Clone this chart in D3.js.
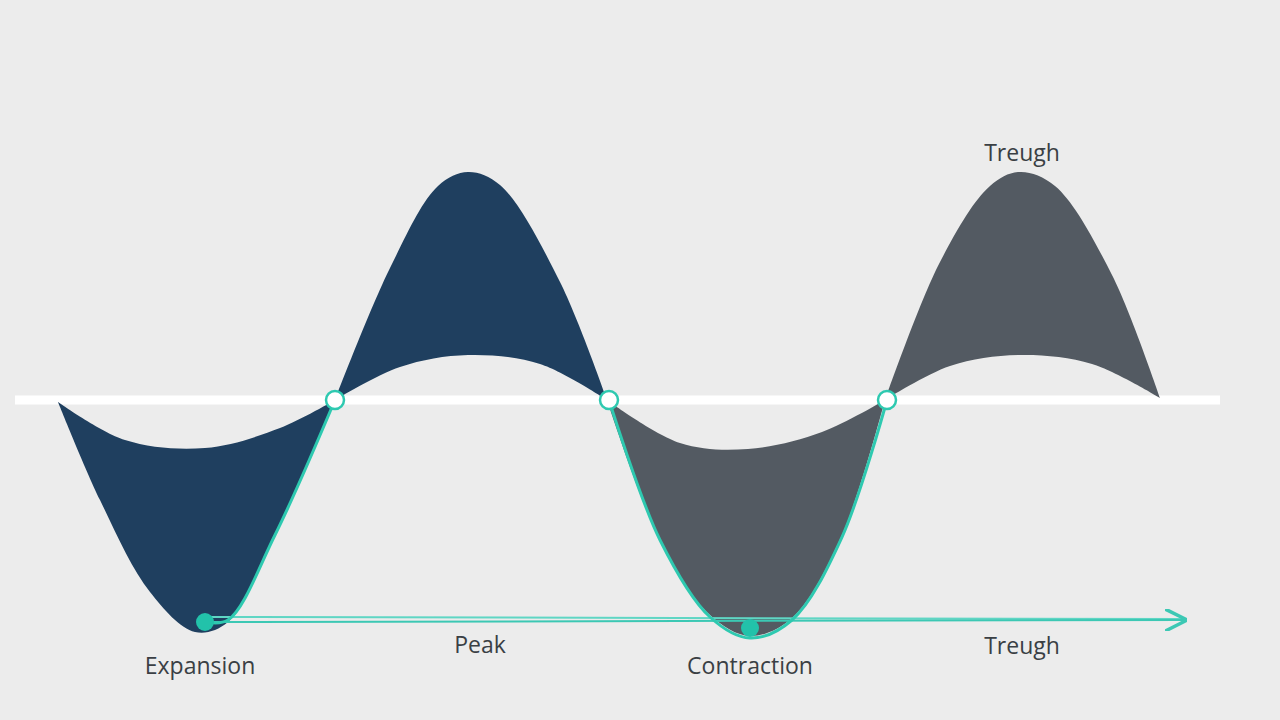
<!DOCTYPE html>
<html>
<head>
<meta charset="utf-8">
<script src="https://cdn.jsdelivr.net/npm/d3@7"></script>
<style>
  body { margin: 0; background: #ececec; }
  text { font-family: "Open Sans", "Noto Sans", sans-serif; }
</style>
</head>
<body>
<div id="chart"></div>
<script>
// lobes of the cycle: outer edge and inner edge, [x, y]
const lobeOuter = [
  [[58,402],[100,500],[150,592],[195,632],[228,622],[275,535],[335,400]],
  [[335,400],[390,268],[438,186],[468,172],[500,185],[560,282],[607,400]],
  [[607,400],[660,540],[710,615],[750,636],[792,618],[842,535],[885,400]],
  [[885,400],[940,262],[990,186],[1020,172],[1055,186],[1112,275],[1160,398]]
];
const lobeInner = [
  [[58,402],[125,440],[205,448],[280,428],[335,400]],
  [[335,400],[400,367],[468,355],[540,364],[607,400]],
  [[607,400],[680,443],[748,449],[822,432],[885,400]],
  [[885,400],[950,366],[1020,355],[1092,364],[1160,398]]
];
const lobeColors = ['#1f3f5f', '#1f3f5f', '#535a62', '#535a62'];

// teal outline along the outer edge
const tealPath = [
  [[205,622],[228,620],[275,535],[335,400]],
  [[609,400],[660,540],[710,617],[750,638],[792,620],[842,537],[887,400]]
];
const crossings = [[335,400],[609,400],[887,400]];
const lows = [[205,622],[750,628]];

const labels = [
  { text: 'Expansion', x: 200, y: 674 },
  { text: 'Peak', x: 480, y: 653 },
  { text: 'Contraction', x: 750, y: 674 },
  { text: 'Treugh', x: 1022, y: 654 },
  { text: 'Treugh', x: 1022, y: 161 }
];

const width = 1280, height = 720;
const svg = d3.select('#chart').append('svg')
  .attr('width', width).attr('height', height);

svg.append('rect').attr('width', width).attr('height', height).attr('fill', '#ececec');

const x = d3.scaleLinear().domain([0, 1280]).range([0, width]);
const y = d3.scaleLinear().domain([0, 720]).range([0, height]);

const line = d3.line().x(d => x(d[0])).y(d => y(d[1])).curve(d3.curveCatmullRom);

// baseline
svg.append('line')
  .attr('x1', x(15)).attr('x2', x(1220)).attr('y1', y(400)).attr('y2', y(400))
  .attr('stroke', '#ffffff').attr('stroke-width', 9);

// lobes
lobeOuter.forEach((outer, i) => {
  const inner = lobeInner[i].slice().reverse();
  const d = line(outer) + line(inner).replace(/^M/, 'L') + 'Z';
  svg.append('path').attr('d', d).attr('fill', lobeColors[i]);
});

// arrow along the bottom
svg.append('defs').append('marker')
  .attr('id', 'arrow').attr('viewBox', '0 0 10 10')
  .attr('refX', 9).attr('refY', 5)
  .attr('markerWidth', 8).attr('markerHeight', 8)
  .attr('markerUnits', 'userSpaceOnUse')
  .attr('orient', 'auto')
  .append('path').attr('d', 'M0,0 L10,5 L0,10')
  .attr('fill', 'none').attr('stroke', '#3cc8b4').attr('stroke-width', 1.6);

svg.select('#arrow').attr('markerWidth', 22).attr('markerHeight', 22);

svg.append('line')
  .attr('x1', x(205)).attr('x2', x(1185)).attr('y1', y(617)).attr('y2', y(619))
  .attr('stroke', '#5fd6c4').attr('stroke-width', 2);
svg.append('line')
  .attr('x1', x(205)).attr('x2', x(1185)).attr('y1', y(622)).attr('y2', y(620))
  .attr('stroke', '#3cc8b4').attr('stroke-width', 2)
  .attr('marker-end', 'url(#arrow)');

// teal outlines
tealPath.forEach(p => {
  svg.append('path').attr('d', line(p))
    .attr('fill', 'none').attr('stroke', '#2ec9b0').attr('stroke-width', 3);
});

svg.selectAll('.low').data(lows).join('circle')
  .attr('cx', d => x(d[0])).attr('cy', d => y(d[1])).attr('r', 9)
  .attr('fill', '#22c2aa');

svg.selectAll('.cross').data(crossings).join('circle')
  .attr('cx', d => x(d[0])).attr('cy', d => y(d[1])).attr('r', 9)
  .attr('fill', '#ffffff').attr('stroke', '#2ec9b0').attr('stroke-width', 2.5);

svg.selectAll('.label').data(labels).join('text')
  .attr('x', d => x(d.x)).attr('y', d => y(d.y))
  .attr('text-anchor', 'middle')
  .attr('font-size', 23)
  .attr('fill', '#3a3f44')
  .text(d => d.text);
</script>
</body>
</html>
